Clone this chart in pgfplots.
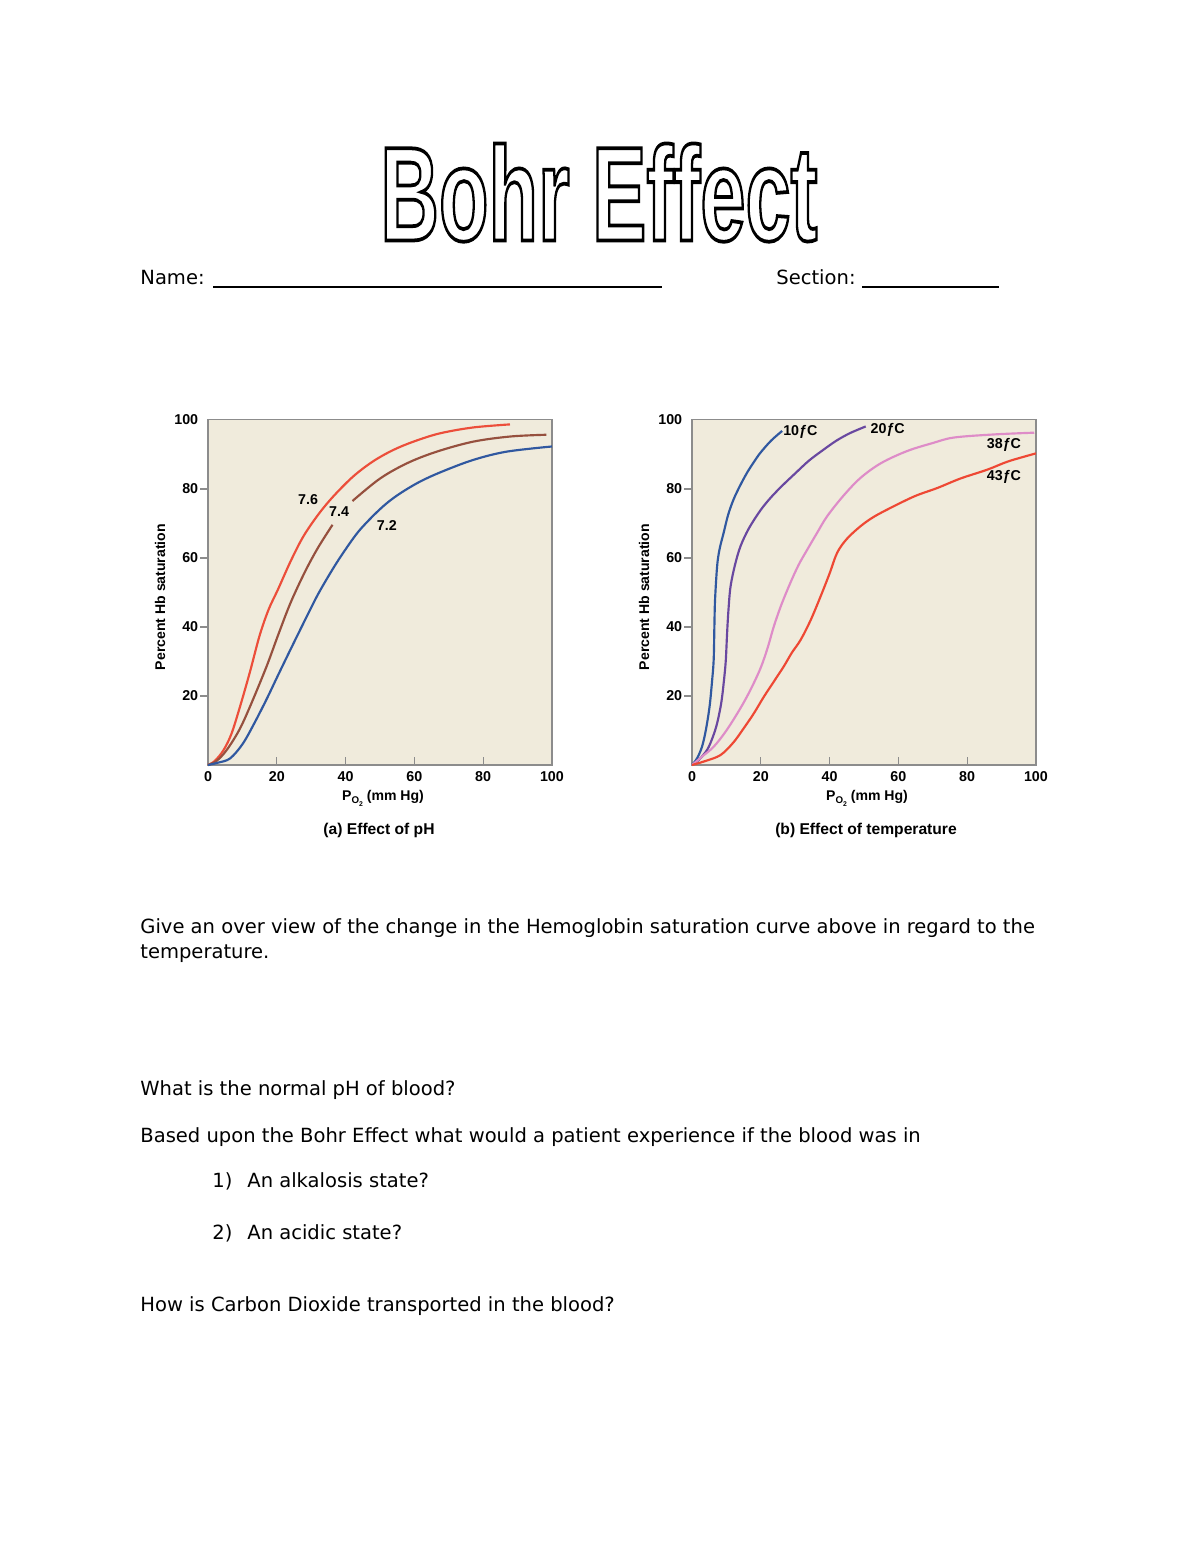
\documentclass[border=0pt]{standalone}
\usepackage{pgfplots}
\pgfplotsset{compat=1.18}
\usepackage{fontspec}
\usepackage{graphicx}
\setmainfont{DejaVu Sans}
\newfontfamily\hv{Liberation Sans}
\definecolor{bgbeige}{RGB}{240,235,220}
\definecolor{framegray}{RGB}{140,140,140}
\definecolor{cred}{RGB}{236,78,58}
\definecolor{cbrown}{RGB}{150,80,62}
\definecolor{cblue}{RGB}{48,88,160}
\definecolor{cpurple}{RGB}{105,72,160}
\definecolor{cpink}{RGB}{222,140,200}
\definecolor{cred2}{RGB}{238,72,52}
\pgfplotsset{
  bohr/.style={
    scale only axis, width=175.4bp, height=176bp,
    xmin=0, xmax=100, ymin=0, ymax=100,
    axis background/.style={fill=bgbeige},
    axis line style={framegray, line width=0.6bp},
    tick pos=left, tick align=inside, major tick length=4bp,
    xtick={0,20,40,60,80,100},
    ytick={20,40,60,80},
    extra y ticks={100}, extra y tick style={major tick length=0pt},
    xtick style={framegray, line width=0.6bp},
    ytick style={framegray, line width=0.6bp, xshift=-4bp},
    /pgf/number format/assume math mode=true,
    tick label style={font=\hv\bfseries\fontsize{7.3}{8}\selectfont},
    yticklabel style={xshift=-1.5bp},
    every axis plot/.append style={line width=1.1bp, smooth, tension=0.55, no markers},
    clip=false,
  }
}
\begin{document}
\begin{tikzpicture}
\path[fill=white, use as bounding box] (0,0) rectangle (612bp,-792bp);
\begin{scope}[x=0.51bp, y=-0.51bp]
% title
\node[anchor=north west, inner sep=0pt] at (380,143) {\resizebox{223bp}{49.5bp}{\hv\bfseries\special{pdf:literal direct 0 G 1 Tr 0.28 w}Bohr Effect\special{pdf:literal direct 0 Tr}}};
\fontsize{10}{12}\selectfont
\node[anchor=base west, inner sep=0pt] at (140,284) {Name:};
\draw[line width=0.6bp] (213,287) -- (662,287);
\node[anchor=base west, inner sep=0pt] at (776,284) {Section:};
\draw[line width=0.6bp] (862,287) -- (999,287);
\node[anchor=base west, inner sep=0pt] at (140,933) {Give an over view of the change in the Hemoglobin saturation curve above in regard to the};
\node[anchor=base west, inner sep=0pt] at (140,958) {temperature.};
\node[anchor=base west, inner sep=0pt] at (140,1095) {What is the normal pH of blood?};
\node[anchor=base west, inner sep=0pt] at (140,1142) {Based upon the Bohr Effect what would a patient experience if the blood was in};
\node[anchor=base west, inner sep=0pt] at (212,1187) {1)};
\node[anchor=base west, inner sep=0pt] at (247,1187) {An alkalosis state?};
\node[anchor=base west, inner sep=0pt] at (212,1239) {2)};
\node[anchor=base west, inner sep=0pt] at (247,1239) {An acidic state?};
\node[anchor=base west, inner sep=0pt] at (140,1311) {How is Carbon Dioxide transported in the blood?};
% chart labels
\begingroup
\hv\bfseries
\fontsize{7.2}{8}\selectfont
\node[rotate=90] at (160,597) {Percent Hb saturation};
\node[rotate=90] at (644,597) {Percent Hb saturation};
\node at (383,798) {P\raisebox{-0.5ex}{\fontsize{5}{5}\selectfont O\raisebox{-0.4ex}{\fontsize{3.5}{4}\selectfont 2}} (mm Hg)};
\node at (867,798) {P\raisebox{-0.5ex}{\fontsize{5}{5}\selectfont O\raisebox{-0.4ex}{\fontsize{3.5}{4}\selectfont 2}} (mm Hg)};
\fontsize{8}{9}\selectfont
\node at (379,830) {(a) Effect of pH};
\node at (866,830) {(b) Effect of temperature};
\endgroup
\end{scope}

% (a) Effect of pH
\begin{axis}[bohr, at={({208*0.51bp},{-765*0.51bp})}, anchor=south west]
\addplot[cred] coordinates {(0,0) (2,1.2) (4.5,4.3) (6.8,9) (9.3,16.9) (12.2,27) (15,37.5) (17.6,45) (20.4,51) (24,59) (27.7,66.2) (32,72.5) (36.4,77.8) (42.2,83.6) (48,88) (53.9,91.3) (60,93.8) (67.4,96.1) (77,97.8) (87.8,98.7)};
\addplot[cbrown] coordinates {(0,0) (2.5,1.2) (5.4,4.3) (9,10) (12.2,16.9) (17,28.5) (20.4,37.7) (24,47) (28.2,56) (32,63) (36.2,69.6)};
\addplot[cbrown] coordinates {(42,76.5) (50,83) (58,87.5) (66.5,90.8) (77.1,93.7) (88,95.2) (98.4,95.7)};
\addplot[cblue] coordinates {(0,0) (3,0.7) (6.4,1.9) (10,6) (13.2,11.6) (17,19) (20.4,26.1) (24,33.5) (28.2,42) (32,49.5) (36.4,57) (40,62.5) (43.7,67.6) (48,72.2) (51.9,75.8) (56,78.8) (61.6,82.1) (68,85) (77.1,88.4) (86.8,90.8) (100,92.3)};
\node[font=\hv\bfseries\fontsize{7.3}{8}\selectfont] at (axis cs:29.1,76.8) {7.6};
\node[font=\hv\bfseries\fontsize{7.3}{8}\selectfont] at (axis cs:38.1,73.3) {7.4};
\node[font=\hv\bfseries\fontsize{7.3}{8}\selectfont] at (axis cs:52,69.3) {7.2};
\end{axis}

% (b) Effect of temperature
\begin{axis}[bohr, at={({692*0.51bp},{-765*0.51bp})}, anchor=south west]
\addplot[cblue] coordinates {(0,0) (1.5,2) (2.9,5.3) (4,10) (5.1,16.9) (5.8,24) (6.3,30.5) (6.5,40) (6.7,47.9) (7.3,57.6) (8,62.5) (9.2,67.3) (10.5,72.5) (12.1,77) (14,81) (16,84.7) (18,87.8) (19.9,90.5) (23,94) (26.2,96.8)};
\addplot[cpurple] coordinates {(0,0) (2,1.5) (4.4,4.4) (6,8) (7.3,12.1) (8.5,18) (9.2,23.7) (9.8,30) (10.2,38.2) (10.6,45) (11.2,51.7) (12.5,58) (14.1,63.4) (16.5,68.5) (19.9,73.8) (23,77.6) (26.5,81.2) (30,84.5) (34,88.2) (38,91.2) (42,94) (46,96.2) (50.5,98.1)};
\addplot[cpink] coordinates {(0,0) (3,2.5) (6.3,5.3) (10,10) (14.1,16.5) (17,21.8) (19.9,28) (22,34) (23.8,40.2) (26,46.5) (28.6,52.8) (31,58) (33.5,62.4) (36.5,67.5) (39.3,72.1) (44,78) (49,83.2) (55,87.5) (62.6,91) (70,93.3) (76.2,94.9) (88,95.8) (99.5,96.3)};
\addplot[cred2] coordinates {(0,0) (4,1.2) (8.3,2.9) (12,6.5) (15,10.6) (18,15) (20.9,19.8) (24,24.5) (26.7,28.6) (29,32.5) (31.6,36.3) (34.5,42) (37.4,48.9) (40,55.5) (42.2,61.5) (45,65.5) (49,69.2) (53,72) (58.7,75) (65,78) (71.4,80.3) (78,83) (85.9,85.6) (92,88) (100,90.3)};
\node[font=\hv\bfseries\fontsize{7.3}{8}\selectfont] at (axis cs:31.5,96.5) {10ƒC};
\node[font=\hv\bfseries\fontsize{7.3}{8}\selectfont] at (axis cs:56.9,97.1) {20ƒC};
\node[font=\hv\bfseries\fontsize{7.3}{8}\selectfont] at (axis cs:90.7,92.8) {38ƒC};
\node[font=\hv\bfseries\fontsize{7.3}{8}\selectfont] at (axis cs:90.7,83.5) {43ƒC};
\end{axis}
\end{tikzpicture}
\end{document}
